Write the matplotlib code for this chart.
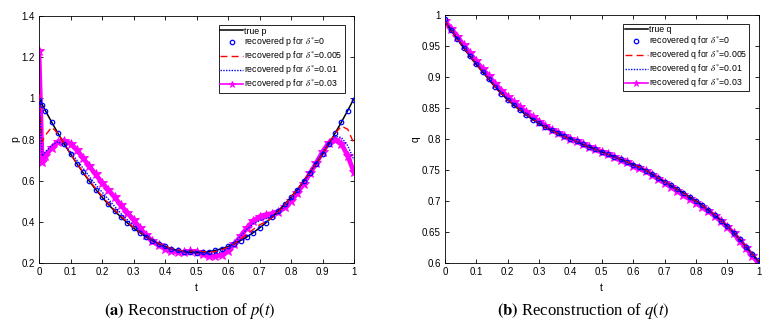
import matplotlib
matplotlib.use("Agg")
import matplotlib.pyplot as plt

plt.rcParams["font.family"] = ["Liberation Sans", "DejaVu Sans"]
plt.rcParams["mathtext.fontset"] = "stix"

# ── Datos ────────────────────────────────────────────────────────────────────
T_P = [0, 0.01, 0.02, 0.04, 0.06, 0.08, 0.10, 0.12, 0.14, 0.16, 0.18, 0.20,
       0.22, 0.24, 0.26, 0.28, 0.30, 0.32, 0.34, 0.36, 0.38, 0.40, 0.42, 0.44,
       0.46, 0.48, 0.50, 0.52, 0.54, 0.56, 0.58, 0.60, 0.62, 0.64, 0.66, 0.68,
       0.70, 0.72, 0.74, 0.76, 0.78, 0.80, 0.82, 0.84, 0.86, 0.88, 0.90, 0.92,
       0.94, 0.96, 0.98, 1.00]

P_TRUE = [1.000, 0.970, 0.941, 0.885, 0.831, 0.779, 0.730, 0.683, 0.639, 0.597,
          0.557, 0.520, 0.485, 0.453, 0.423, 0.395, 0.370, 0.347, 0.327, 0.309,
          0.293, 0.280, 0.269, 0.261, 0.255, 0.251, 0.250, 0.251, 0.255, 0.261,
          0.269, 0.280, 0.293, 0.309, 0.327, 0.347, 0.370, 0.395, 0.423, 0.453,
          0.485, 0.520, 0.557, 0.597, 0.639, 0.683, 0.730, 0.779, 0.831, 0.885,
          0.941, 1.000]

P_D0 = [0.99, 0.97, 0.94, 0.885, 0.83, 0.78, 0.73, 0.683, 0.64, 0.597,
        0.557, 0.52, 0.485, 0.453, 0.423, 0.395, 0.37, 0.347, 0.327, 0.309,
        0.293, 0.28, 0.269, 0.261, 0.255, 0.251, 0.25, 0.251, 0.255, 0.261,
        0.269, 0.28, 0.293, 0.309, 0.327, 0.347, 0.37, 0.395, 0.423, 0.453,
        0.485, 0.52, 0.557, 0.597, 0.639, 0.683, 0.73, 0.779, 0.83, 0.885,
        0.94, 0.99]

P_D005 = [1.02, 0.79, 0.82, 0.86, 0.83, 0.78, 0.73, 0.685, 0.642, 0.60,
          0.562, 0.525, 0.49, 0.458, 0.428, 0.40, 0.374, 0.35, 0.33, 0.311,
          0.295, 0.281, 0.27, 0.262, 0.257, 0.256, 0.258, 0.255, 0.252, 0.255,
          0.263, 0.277, 0.295, 0.315, 0.34, 0.363, 0.385, 0.40, 0.42, 0.448,
          0.482, 0.52, 0.558, 0.598, 0.64, 0.685, 0.73, 0.78, 0.83, 0.865,
          0.85, 0.78]

P_D01 = [1.00, 0.72, 0.74, 0.77, 0.79, 0.77, 0.74, 0.70, 0.66, 0.62,
         0.58, 0.545, 0.51, 0.475, 0.44, 0.41, 0.385, 0.355, 0.33, 0.31,
         0.29, 0.277, 0.267, 0.258, 0.255, 0.255, 0.255, 0.25, 0.245, 0.245,
         0.255, 0.272, 0.30, 0.33, 0.365, 0.39, 0.405, 0.415, 0.425, 0.445,
         0.475, 0.51, 0.55, 0.595, 0.64, 0.69, 0.74, 0.785, 0.815, 0.81,
         0.77, 0.70]

P_D03 = [1.23, 0.69, 0.72, 0.76, 0.79, 0.795, 0.78, 0.75, 0.71, 0.67,
         0.63, 0.59, 0.555, 0.52, 0.48, 0.445, 0.41, 0.37, 0.335, 0.305,
         0.285, 0.27, 0.258, 0.252, 0.252, 0.256, 0.255, 0.245, 0.235, 0.232,
         0.24, 0.26, 0.29, 0.33, 0.37, 0.405, 0.425, 0.435, 0.44, 0.45,
         0.47, 0.50, 0.54, 0.585, 0.635, 0.685, 0.74, 0.785, 0.80, 0.78,
         0.72, 0.64]

T_Q = [0.00, 0.02, 0.04, 0.06, 0.08, 0.10, 0.12, 0.14, 0.16, 0.18, 0.20,
       0.22, 0.24, 0.26, 0.28, 0.30, 0.32, 0.34, 0.36, 0.38, 0.40, 0.42, 0.44,
       0.46, 0.48, 0.50, 0.52, 0.54, 0.56, 0.58, 0.60, 0.62, 0.64, 0.66, 0.68,
       0.70, 0.72, 0.74, 0.76, 0.78, 0.80, 0.82, 0.84, 0.86, 0.88, 0.90, 0.92,
       0.94, 0.96, 0.98, 1.00]

Q_TRUE = [0.990, 0.975, 0.961, 0.947, 0.933, 0.920, 0.908, 0.896, 0.884, 0.873,
          0.863, 0.854, 0.846, 0.838, 0.831, 0.825, 0.819, 0.814, 0.809, 0.804,
          0.800, 0.796, 0.791, 0.787, 0.783, 0.779, 0.775, 0.771, 0.767, 0.763,
          0.758, 0.754, 0.749, 0.743, 0.737, 0.731, 0.725, 0.719, 0.713, 0.706,
          0.700, 0.693, 0.685, 0.677, 0.668, 0.659, 0.649, 0.638, 0.626, 0.614,
          0.602]

Q_D0 = [0.993, 0.975, 0.961, 0.947, 0.933, 0.920, 0.908, 0.896, 0.884, 0.873,
        0.863, 0.854, 0.846, 0.838, 0.831, 0.825, 0.819, 0.814, 0.809, 0.804,
        0.800, 0.796, 0.791, 0.787, 0.783, 0.779, 0.775, 0.771, 0.767, 0.763,
        0.758, 0.754, 0.749, 0.743, 0.737, 0.731, 0.725, 0.719, 0.713, 0.706,
        0.700, 0.693, 0.685, 0.677, 0.668, 0.659, 0.649, 0.638, 0.626, 0.614,
        0.605]

Q_D005 = [0.990, 0.976, 0.962, 0.948, 0.934, 0.921, 0.909, 0.897, 0.885, 0.874,
          0.864, 0.855, 0.847, 0.839, 0.832, 0.826, 0.820, 0.814, 0.809, 0.804,
          0.800, 0.796, 0.791, 0.787, 0.783, 0.779, 0.775, 0.771, 0.767, 0.763,
          0.758, 0.754, 0.749, 0.743, 0.737, 0.731, 0.725, 0.718, 0.712, 0.705,
          0.699, 0.692, 0.685, 0.677, 0.668, 0.659, 0.649, 0.638, 0.626, 0.613,
          0.602]

Q_D01 = [0.990, 0.977, 0.963, 0.949, 0.935, 0.922, 0.910, 0.898, 0.886, 0.875,
         0.865, 0.856, 0.848, 0.840, 0.833, 0.826, 0.820, 0.815, 0.810, 0.805,
         0.800, 0.796, 0.791, 0.787, 0.783, 0.779, 0.775, 0.771, 0.767, 0.762,
         0.757, 0.753, 0.748, 0.742, 0.736, 0.730, 0.724, 0.717, 0.711, 0.704,
         0.698, 0.691, 0.684, 0.676, 0.668, 0.659, 0.649, 0.637, 0.625, 0.612,
         0.601]

Q_D03 = [0.990, 0.978, 0.965, 0.951, 0.938, 0.925, 0.913, 0.901, 0.889, 0.878,
         0.868, 0.859, 0.851, 0.843, 0.835, 0.828, 0.821, 0.815, 0.810, 0.805,
         0.800, 0.796, 0.791, 0.787, 0.783, 0.779, 0.775, 0.770, 0.766, 0.762,
         0.757, 0.753, 0.748, 0.742, 0.736, 0.729, 0.723, 0.716, 0.710, 0.703,
         0.697, 0.690, 0.683, 0.676, 0.667, 0.658, 0.648, 0.636, 0.624, 0.611,
         0.600]

X_TICKS = [0, 0.1, 0.2, 0.3, 0.4, 0.5, 0.6, 0.7, 0.8, 0.9, 1]
X_TICKLABELS = ["0", "0.1", "0.2", "0.3", "0.4", "0.5", "0.6", "0.7", "0.8", "0.9", "1"]
P_YTICKS = [0.2, 0.4, 0.6, 0.8, 1.0, 1.2, 1.4]
P_YTICKLABELS = ["0.2", "0.4", "0.6", "0.8", "1", "1.2", "1.4"]
Q_YTICKS = [0.6, 0.65, 0.7, 0.75, 0.8, 0.85, 0.9, 0.95, 1.0]
Q_YTICKLABELS = ["0.6", "0.65", "0.7", "0.75", "0.8", "0.85", "0.9", "0.95", "1"]

DELTA = r"$\delta^{*}$"


def draw_panel(ax, t, true, d0, d005, d01, d03, name):
    ax.plot(t, d03, color="#ff00ff", lw=3.4, marker="*", markersize=7,
            markeredgewidth=0.6, zorder=2,
            label=f"recovered {name} for {DELTA}=0.03")
    ax.plot(t, true, color="black", lw=1.1, zorder=3, label=f"true {name}")
    ax.plot(t, d0, linestyle="none", marker="o", markersize=3.2,
            markerfacecolor="none", markeredgecolor="#0000ff",
            markeredgewidth=0.9, zorder=4,
            label=f"recovered {name} for {DELTA}=0")
    ax.plot(t, d005, color="#ff0000", lw=1.0, linestyle=(0, (5, 3)), zorder=5,
            label=f"recovered {name} for {DELTA}=0.005")
    ax.plot(t, d01, color="#0000ff", lw=1.0, linestyle=(0, (1, 1)), zorder=5,
            label=f"recovered {name} for {DELTA}=0.01")

    handles, labels = ax.get_legend_handles_labels()
    order = [1, 2, 3, 4, 0]
    leg = ax.legend([handles[i] for i in order], [labels[i] for i in order],
                    loc="upper right", bbox_to_anchor=(0.97, 0.965),
                    fontsize=6.3, handlelength=2.6, handletextpad=0.15,
                    borderpad=0.2, labelspacing=0.05, fancybox=False,
                    framealpha=1, edgecolor="black", borderaxespad=0)
    leg.get_frame().set_linewidth(0.6)
    for line in leg.get_lines():
        if line.get_marker() == "*":
            line.set_linewidth(1.2)
            line.set_markersize(5)

    ax.set_xlim(0, 1)
    ax.set_xticks(X_TICKS)
    ax.set_xticklabels(X_TICKLABELS)
    ax.set_xlabel("t", fontsize=7.5, labelpad=4)
    ax.set_ylabel(name, fontsize=7.5, labelpad=1)
    ax.tick_params(direction="in", top=True, right=True, length=3,
                   width=0.6, labelsize=7, pad=3)
    for sp in ax.spines.values():
        sp.set_linewidth(0.6)


fig = plt.figure(figsize=(7.71, 3.23), dpi=100)
ax1 = fig.add_axes([0.0506, 0.186, 0.4086, 0.764])
ax2 = fig.add_axes([0.577, 0.186, 0.407, 0.768])

draw_panel(ax1, T_P, P_TRUE, P_D0, P_D005, P_D01, P_D03, "p")
ax1.set_ylim(0.2, 1.4)
ax1.set_yticks(P_YTICKS)
ax1.set_yticklabels(P_YTICKLABELS)

draw_panel(ax2, T_Q, Q_TRUE, Q_D0, Q_D005, Q_D01, Q_D03, "q")
ax2.set_ylim(0.6, 1.0)
ax2.set_yticks(Q_YTICKS)
ax2.set_yticklabels(Q_YTICKLABELS)

cap_kw = dict(ha="center", va="center", fontsize=12,
              family=["Liberation Serif", "DejaVu Serif"])
fig.text(0.2465, 0.037, r"$\mathbf{(a)}$ Reconstruction of $p(t)$", **cap_kw)
fig.text(0.756, 0.037, r"$\mathbf{(b)}$ Reconstruction of $q(t)$", **cap_kw)

fig.savefig("out.png", dpi=100)
